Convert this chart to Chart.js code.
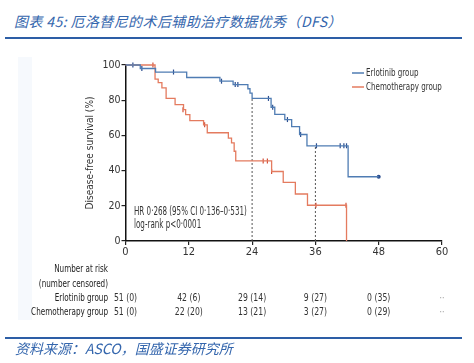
<!DOCTYPE html>
<html>
<head>
<meta charset="utf-8">
<script src="https://cdn.jsdelivr.net/npm/chart.js@4.4.0/dist/chart.umd.min.js"></script>
<style>
  html, body { margin: 0; padding: 0; background: #fff; }
  #wrap { position: relative; width: 474px; height: 363px; overflow: hidden; }
  #titel { position: absolute; left: 14px; top: 11px; font: italic 14px "Noto Sans CJK SC", sans-serif; letter-spacing: 0.4px; color: #3466ad; white-space: nowrap; }
  #linija1 { position: absolute; left: 5px; top: 37px; width: 457px; height: 2px; background: #2d5ea6; }
  #traka { position: absolute; left: 18px; top: 57px; width: 14px; height: 263px; background: #f6f9fd; }
  #linija2 { position: absolute; left: 5px; top: 337px; width: 457px; height: 2px; background: #2d5ea6; }
  #izvor { position: absolute; left: 15px; top: 338px; font: italic 14px "Noto Sans CJK SC", sans-serif; color: #3466ad; white-space: nowrap; }
  #grafikon { position: absolute; left: 0; top: 0; }
</style>
</head>
<body>
<div id="wrap">
  <div id="traka"></div>
  <div id="titel">图表 45:  厄洛替尼的术后辅助治疗数据优秀（DFS）</div>
  <div id="linija1"></div>
  <canvas id="grafikon" width="474" height="363"></canvas>
  <div id="linija2"></div>
  <div id="izvor">资料来源：ASCO，国盛证券研究所</div>
</div>
<script>
// Kaplan-Meier koraci (mjeseci, % bez bolesti)
var erlotinibVrijeme = [0, 2.8, 5.7, 11.6, 17.9, 20.4, 23.2, 23.6, 24, 27.6, 28.3, 30.2, 31.5, 33, 34.4, 42.2, 48];
var erlotinibDfs     = [100, 98, 96, 92.9, 90.8, 88.9, 86.5, 84, 81, 76, 72, 69, 65, 60.5, 54.1, 36.5, 36.5];

var kemoVrijeme = [0, 5.6, 6.2, 6.9, 7.7, 9.4, 11, 11.4, 12.2, 14.8, 15.5, 19.5, 20.1, 20.6, 20.9, 27.7, 29.9, 32.2, 34.5, 41.9];
var kemoDfs     = [100, 92, 90, 87, 81, 77.5, 74.6, 71.8, 68.4, 66, 61.5, 58.5, 55.7, 51, 45.5, 39.5, 33.3, 26.7, 20.3, 0];

// cenzurirani
var erlotinibCenzVrijeme = [1.4, 3.1, 9.1, 18.2, 20.8, 21.3, 27.1, 27.9, 30.7, 33.2, 36.2, 40.7, 41.4, 41.9];
var erlotinibCenzDfs     = [100, 98, 96, 90.8, 88.9, 88.9, 81, 76, 69, 60.5, 54.1, 54.1, 54.1, 54.1];
var kemoCenzVrijeme = [5.2, 10.9, 15, 26.1, 26.9, 27.7, 36.1, 41.8];
var kemoCenzDfs     = [100, 74.6, 66, 45.5, 45.5, 39.5, 20.3, 20.3];

// isprekidane linije
var crtkanoX = [24, 36];
var crtkanoY = [81, 54.1];

var xOznake = [0, 12, 24, 36, 48, 60];
var erlotinibRizik = ["51 (0)", "42 (6)", "29 (14)", "9 (27)", "0 (35)", "··"];
var kemoRizik      = ["51 (0)", "22 (20)", "13 (21)", "3 (27)", "0 (29)", "··"];

var plava = "#4f7cb3";
var crvena = "#e47b5f";
var font = "'Liberation Sans Narrow', 'DejaVu Sans Condensed', sans-serif";

function tacke(xs, ys) {
    var out = [];
    for (let i = 0; i < xs.length; i++) {
        out.push({x: xs[i], y: ys[i]});
    }
    return out;
}

// tekst sabijen po sirini (izvorni font je uzak)
function uskiTekst(ctx, tekst, x, y, sx) {
    ctx.save();
    ctx.translate(x, y);
    ctx.scale(sx, 1);
    ctx.fillText(tekst, 0, 0);
    ctx.restore();
}

var skupovi = [
    {data: tacke(erlotinibVrijeme, erlotinibDfs), borderColor: plava, borderWidth: 1.3, stepped: true, pointRadius: 0, showLine: true, clip: false},
    {data: tacke(kemoVrijeme, kemoDfs), borderColor: crvena, borderWidth: 1.3, stepped: true, pointRadius: 0, showLine: true, clip: false},
    {data: tacke(erlotinibCenzVrijeme, erlotinibCenzDfs), showLine: false, pointStyle: "line", rotation: 90, pointRadius: 2.5, borderColor: "#2a4d8f", borderWidth: 1.2, clip: false},
    {data: tacke(kemoCenzVrijeme, kemoCenzDfs), showLine: false, pointStyle: "line", rotation: 90, pointRadius: 2.5, borderColor: "#d2503a", borderWidth: 1.2, clip: false},
    {data: [{x: 48, y: 36.5}], showLine: false, pointRadius: 2, backgroundColor: "#2a4d8f", borderWidth: 0, clip: false}
];
for (let i = 0; i < crtkanoX.length; i++) {
    skupovi.push({data: [{x: crtkanoX[i], y: 0}, {x: crtkanoX[i], y: crtkanoY[i]}], showLine: true,
        borderColor: "#555", borderWidth: 1, borderDash: [2, 2], pointRadius: 0});
}

var dodaci = {
    id: "dodaci",
    afterDraw: function(chart) {
        var ctx = chart.ctx;
        var x = chart.scales.x;
        ctx.save();
        // legenda
        ctx.font = "11px " + font;
        ctx.textBaseline = "middle";
        ctx.textAlign = "left";
        ctx.lineWidth = 1.5;
        ctx.strokeStyle = plava;
        ctx.beginPath(); ctx.moveTo(352, 73); ctx.lineTo(364, 73); ctx.stroke();
        ctx.strokeStyle = crvena;
        ctx.beginPath(); ctx.moveTo(352, 87); ctx.lineTo(364, 87); ctx.stroke();
        ctx.fillStyle = "#333";
        uskiTekst(ctx, "Erlotinib group", 366, 73, 0.72);
        uskiTekst(ctx, "Chemotherapy group", 366, 87, 0.72);
        // HR
        ctx.font = "11.5px " + font;
        uskiTekst(ctx, "HR 0·268 (95% CI 0·136–0·531)", 134, 212, 0.69);
        uskiTekst(ctx, "log-rank p<0·0001", 134, 225, 0.69);
        // broj u riziku
        ctx.font = "11px " + font;
        ctx.textAlign = "right";
        ctx.fillStyle = "#222";
        uskiTekst(ctx, "Number at risk", 108, 269, 0.73);
        uskiTekst(ctx, "(number censored)", 108, 284, 0.73);
        uskiTekst(ctx, "Erlotinib group", 108, 298, 0.73);
        uskiTekst(ctx, "Chemotherapy group", 108, 312, 0.73);
        ctx.textAlign = "center";
        for (let i = 0; i < xOznake.length; i++) {
            var px = x.getPixelForValue(xOznake[i]);
            ctx.fillStyle = i == 5 ? "#999" : "#333";
            uskiTekst(ctx, erlotinibRizik[i], px, 298, 0.78);
            uskiTekst(ctx, kemoRizik[i], px, 312, 0.78);
        }
        ctx.restore();
    }
};

new Chart("grafikon", {
    type: "scatter",
    data: {datasets: skupovi},
    options: {
        responsive: false,
        animation: false,
        layout: {padding: {left: 84, right: 32, top: 65, bottom: 102}},
        plugins: {legend: {display: false}, tooltip: {enabled: false}},
        scales: {
            x: {
                type: "linear", min: 0, max: 60,
                afterBuildTicks: function(s) { s.ticks = xOznake.map(function(v) { return {value: v}; }); },
                ticks: {font: {family: font, size: 11}, color: "#333", padding: 1},
                grid: {drawOnChartArea: false, tickLength: 4, color: "#222", lineWidth: 1.2},
                border: {color: "#111", width: 1.5},
                afterFit: function(s) { s.height = 20; }
            },
            y: {
                min: 0, max: 100,
                ticks: {stepSize: 20, font: {family: font, size: 10.5}, color: "#333", padding: 1},
                grid: {drawOnChartArea: false, tickLength: 4, color: "#222", lineWidth: 1.2},
                border: {color: "#111", width: 1.5},
                title: {display: true, text: "Disease-free survival (%)", font: {family: font, size: 10}, color: "#333", padding: 0},
                afterFit: function(s) { s.width = 41.5; }
            }
        }
    },
    plugins: [dodaci]
});
</script>
</body>
</html>
